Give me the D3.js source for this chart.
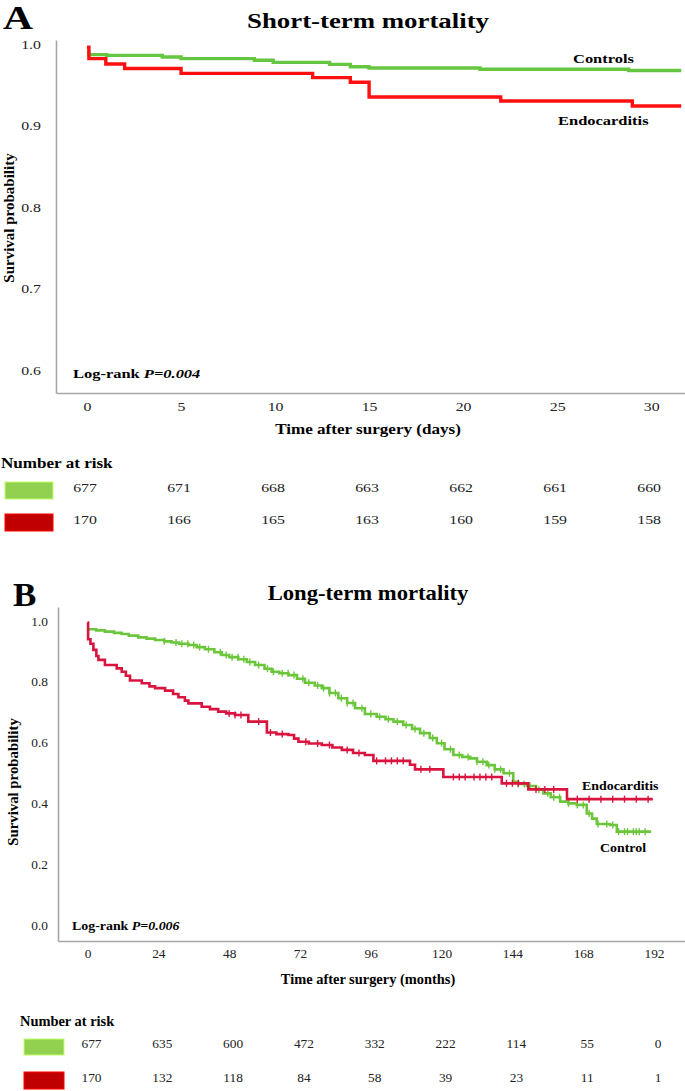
<!DOCTYPE html>
<html>
<head>
<meta charset="utf-8">
<script src="https://cdn.jsdelivr.net/npm/d3@7"></script>
<style>
  body { margin: 0; background: #fff; }
  svg { display: block; font-family: "Liberation Serif", "Times New Roman", serif; }
</style>
</head>
<body>
<svg id="chart"></svg>
<script>
// Kaplan-Meier curves, short-term (days) and long-term (months)
const width = 685;
const height = 1091;

// ---- Panel A data (days) ----
const shortTicks = [0, 5, 10, 15, 20, 25, 30];
const shortYTicks = [0.6, 0.7, 0.8, 0.9, 1.0];
const controlsShortTime = [0, 0.1, 1.05, 4, 5, 8.9, 9.9, 12.9, 14, 15, 20.9, 28.8, 31.6];
const controlsShortSurv = [0.990, 0.987, 0.986, 0.984, 0.982, 0.980, 0.9775, 0.975, 0.972, 0.9705, 0.969, 0.9675, 0.9675];
const endoShortTime = [0, 0.1, 1, 2, 5, 12, 14, 15, 22, 29, 31.6];
const endoShortSurv = [0.996, 0.982, 0.9755, 0.970, 0.964, 0.9587, 0.953, 0.935, 0.930, 0.924, 0.924];
const shortRiskControls = [677, 671, 668, 663, 662, 661, 660];
const shortRiskEndo = [170, 166, 165, 163, 160, 159, 158];

// ---- Panel B data (months) ----
const longTicks = [0, 24, 48, 72, 96, 120, 144, 168, 192];
const longYTicks = [0.0, 0.2, 0.4, 0.6, 0.8, 1.0];
const controlLongTime = [0, 3, 5.9, 9, 11.6, 14, 17.2, 20, 22.9, 26, 28.5, 31, 34.2, 37, 39.8, 43, 45.5, 48, 51.1, 54, 56.8, 60, 62.4, 65, 68.1, 71, 73.7, 77, 79.4, 82, 85, 88, 90.7, 94, 98, 101, 103.7, 107, 110, 112.7, 116, 118.4, 121, 124, 127, 129.7, 132, 135.3, 138, 141, 144.3, 146, 148.9, 152, 154.5, 157, 160.2, 163, 165.8, 169.2, 171, 172.6, 177.1, 179.4, 191];
const controlLongSurv = [0.973, 0.969, 0.965, 0.961, 0.957, 0.952, 0.946, 0.942, 0.9375, 0.933, 0.929, 0.925, 0.921, 0.914, 0.907, 0.897, 0.888, 0.881, 0.874, 0.865, 0.855, 0.843, 0.833, 0.828, 0.822, 0.810, 0.797, 0.788, 0.779, 0.763, 0.746, 0.730, 0.713, 0.694, 0.685, 0.677, 0.669, 0.658, 0.645, 0.631, 0.615, 0.598, 0.578, 0.559, 0.553, 0.548, 0.537, 0.526, 0.512, 0.499, 0.471, 0.464, 0.457, 0.445, 0.433, 0.420, 0.406, 0.400, 0.395, 0.367, 0.350, 0.332, 0.329, 0.307, 0.307];
const endoLongTime = [0, 0.2, 1, 2, 3, 3.7, 5.9, 9.9, 11.6, 13, 14.4, 18.4, 21, 22.9, 26.3, 29, 30.8, 33, 34.2, 38.7, 41.5, 44.3, 47, 50, 54.5, 60.8, 64, 68.1, 70, 71.5, 75, 79.4, 83, 86.2, 90, 94, 96.9, 109.3, 111, 120.6, 140.4, 149.4, 162.5, 191.6];
const endoLongSurv = [0.995, 0.94, 0.925, 0.905, 0.885, 0.872, 0.855, 0.844, 0.833, 0.820, 0.804, 0.795, 0.785, 0.779, 0.771, 0.760, 0.749, 0.738, 0.729, 0.718, 0.710, 0.702, 0.696, 0.691, 0.669, 0.633, 0.628, 0.625, 0.613, 0.603, 0.597, 0.592, 0.584, 0.576, 0.566, 0.559, 0.540, 0.527, 0.512, 0.487, 0.466, 0.446, 0.414, 0.414];
const controlLongCensor = [26, 30, 32, 34, 36, 38, 41, 45, 47, 49, 51, 53, 55, 58, 61, 63, 66, 68, 70, 73, 75, 78, 80, 82, 84, 86, 88, 90, 93, 96, 99, 102, 105, 108, 111, 114, 117, 120, 123, 126, 129, 132, 134, 136, 138, 140, 143, 146, 148, 150, 153, 156, 158, 160, 163, 166, 168, 170, 173, 176, 178, 180, 182, 183, 185, 186, 187, 189];
const endoLongCensor = [48, 50, 52, 58, 62, 66, 74, 78, 82, 88, 92, 98, 101, 103, 105, 107, 113, 116, 124, 126, 128, 131, 133, 135, 137, 142, 144, 146, 152, 155, 158, 166, 170, 174, 178, 182, 186, 190];
const longRiskControls = [677, 635, 600, 472, 332, 222, 114, 55, 0];
const longRiskEndo = [170, 132, 118, 84, 58, 39, 23, 11, 1];

const svg = d3.select("#chart")
    .attr("width", width)
    .attr("height", height);

const axisColor = "#a6a6a6";
const boxGreen = "#92d050";
const boxRed = "#c00000";

function zip(times, surv) {
    return times.map((t, i) => ({ t: t, s: surv[i] }));
}

// text placed at (x,y), stretched horizontally by sx (panel A is wider in the source)
function addText(g, x, y, str, size, sx, opts) {
    opts = opts || {};
    const t = g.append("text")
        .attr("transform", `translate(${x},${y}) scale(${sx},1)`)
        .attr("font-size", size)
        .attr("font-weight", opts.bold ? "bold" : null)
        .attr("text-anchor", opts.anchor || "start")
        .attr("fill", opts.fill || "#000");
    if (str !== null) t.text(str);
    return t;
}

// draws one panel
function drawPanel(cfg) {
    const g = svg.append("g");
    const sx = cfg.sx;
    const x = d3.scaleLinear().domain(cfg.xDomain).range([cfg.left, width]);
    const y = d3.scaleLinear().domain(cfg.yDomain).range([cfg.bottom, cfg.top]);

    addText(g, cfg.letterX, cfg.letterY, cfg.letter, 34, sx, { bold: true });
    addText(g, 368, cfg.titleY, cfg.title, 22, sx, { bold: true, anchor: "middle" });

    // axes
    const yAxis = g.append("g")
        .attr("transform", `translate(${cfg.left},0)`)
        .call(d3.axisLeft(y).tickValues(cfg.yTicks).tickFormat(d3.format(".1f"))
            .tickSize(0).tickPadding(0));
    const xAxis = g.append("g")
        .attr("transform", `translate(0,${cfg.bottom})`)
        .call(d3.axisBottom(x).tickValues(cfg.xTicks).tickSize(0).tickPadding(cfg.xPad));
    [yAxis, xAxis].forEach(a => {
        a.select(".domain").attr("stroke", axisColor).attr("stroke-width", 1.6);
        a.selectAll("text")
            .attr("font-family", "Liberation Serif, serif")
            .attr("font-size", 13).attr("fill", "#222");
    });
    yAxis.selectAll("text").attr("x", 0)
        .attr("transform", `translate(${-cfg.yPad},0) scale(${sx},1)`);
    xAxis.selectAll("text").attr("transform", `scale(${sx},1)`);

    g.append("text")
        .attr("transform", `translate(${cfg.yLabelX},${cfg.yLabelY}) rotate(-90)`)
        .attr("text-anchor", "middle")
        .attr("font-size", cfg.yLabelSize).attr("font-weight", "bold")
        .text("Survival probability");
    addText(g, 368, cfg.xLabelY, cfg.xLabel, 14, sx, { bold: true, anchor: "middle" });

    const lr = addText(g, cfg.logX, cfg.logY, null, 13.5, sx, { bold: true });
    lr.append("tspan").text("Log-rank ");
    lr.append("tspan").attr("font-style", "italic").text(cfg.pText);

    // curves
    const line = d3.line()
        .x(d => x(d.t)).y(d => y(d.s))
        .curve(d3.curveStepAfter);
    cfg.series.forEach(sr => {
        g.append("path")
            .datum(sr.data)
            .attr("fill", "none")
            .attr("stroke", sr.color)
            .attr("stroke-width", cfg.lineWidth)
            .attr("d", line);
        if (sr.censor) {
            const bis = d3.bisector(d => d.t).right;
            const sAt = d => sr.data[bis(sr.data, d) - 1].s;
            g.append("g").selectAll("line")
                .data(sr.censor)
                .join("line")
                .attr("x1", d => x(d)).attr("x2", d => x(d))
                .attr("y1", d => y(sAt(d)) - 3.5)
                .attr("y2", d => y(sAt(d)) + 3.5)
                .attr("stroke", sr.color).attr("stroke-width", 1.4);
        }
        addText(g, sr.labelX, sr.labelY, sr.label, 13.5, sx, { bold: true });
    });

    // number at risk table
    addText(g, cfg.riskX, cfg.riskTitleY, "Number at risk", 14, sx, { bold: true });
    cfg.risk.forEach(row => {
        g.append("rect")
            .attr("x", cfg.boxX).attr("y", row.boxY)
            .attr("width", cfg.boxW).attr("height", row.boxH)
            .attr("fill", row.fill)
            .attr("stroke", d3.color(row.fill).brighter(0.8)).attr("stroke-width", 1);
        row.values.forEach((v, i) => {
            addText(g, x(cfg.xTicks[i]) + cfg.riskShift, row.textY, v, 13, sx,
                { anchor: "middle", fill: "#222" });
        });
    });
}

drawPanel({
    letter: "A", letterX: 3, letterY: 29, sx: 1.22,
    title: "Short-term mortality", titleY: 28,
    left: 56, top: 40, bottom: 393,
    xDomain: [-1.65, 31.8], yDomain: [0.5718, 1.0049],
    xTicks: shortTicks, yTicks: shortYTicks, xPad: 9, yPad: 15,
    yLabelX: 14, yLabelY: 218, yLabelSize: 15,
    xLabel: "Time after surgery (days)", xLabelY: 434,
    logX: 73, logY: 378, pText: "P=0.004",
    lineWidth: 3.4,
    series: [
        { data: zip(controlsShortTime, controlsShortSurv), color: "#66c641", label: "Controls", labelX: 573, labelY: 63 },
        { data: zip(endoShortTime, endoShortSurv), color: "#ff1010", label: "Endocarditis", labelX: 558, labelY: 125 }
    ],
    riskX: 1, riskTitleY: 468, boxX: 5, boxW: 48, riskShift: -2,
    risk: [
        { values: shortRiskControls, fill: boxGreen, boxY: 482, boxH: 17, textY: 492 },
        { values: shortRiskEndo, fill: boxRed, boxY: 514, boxH: 17, textY: 524 }
    ]
});

drawPanel({
    letter: "B", letterX: 13, letterY: 606, sx: 1.03,
    title: "Long-term mortality", titleY: 600,
    left: 58, top: 607, bottom: 941,
    xDomain: [-10, 202.5], yDomain: [-0.0526, 1.046],
    xTicks: longTicks, yTicks: longYTicks, xPad: 8, yPad: 10,
    yLabelX: 18, yLabelY: 782, yLabelSize: 14.8,
    xLabel: "Time after surgery (months)", xLabelY: 984,
    logX: 72, logY: 930, pText: "P=0.006",
    lineWidth: 2.6,
    series: [
        { data: zip(controlLongTime, controlLongSurv), censor: controlLongCensor, color: "#6cc63c", label: "Control", labelX: 600, labelY: 852 },
        { data: zip(endoLongTime, endoLongSurv), censor: endoLongCensor, color: "#d9143f", label: "Endocarditis", labelX: 582, labelY: 790 }
    ],
    riskX: 20, riskTitleY: 1026, boxX: 24, boxW: 40, riskShift: 4,
    risk: [
        { values: longRiskControls, fill: boxGreen, boxY: 1039, boxH: 16, textY: 1048 },
        { values: longRiskEndo, fill: boxRed, boxY: 1072, boxH: 17, textY: 1082 }
    ]
});
</script>
</body>
</html>
